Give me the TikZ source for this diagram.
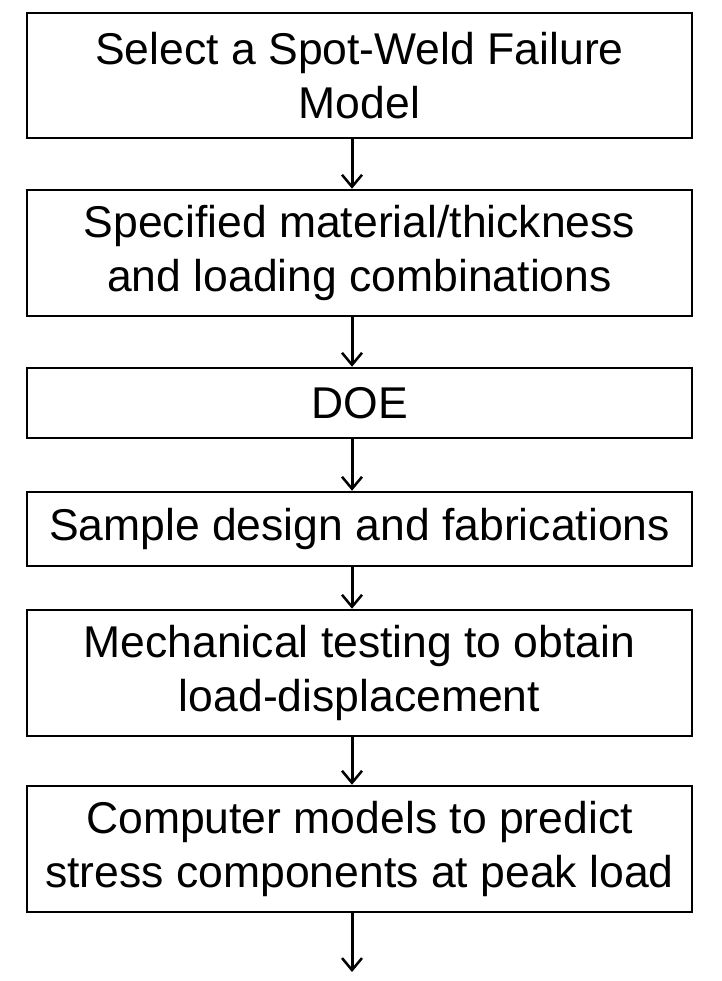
\documentclass[tikz,border=0pt]{standalone}
\usepackage{fontspec}
\setmainfont{Liberation Sans}
\usetikzlibrary{arrows.meta}
\begin{document}
\begin{tikzpicture}[x=1pt,y=1pt,
  box/.style={draw,line width=2.5pt,minimum width=665pt,align=center,inner sep=0pt,
    font=\fontsize{44.5}{54}\selectfont},
  conn/.style={line width=3pt,-{Straight Barb[length=12pt,width=20pt,line width=2.5pt]}}]
\useasboundingbox (0,0) rectangle (721,-981);
\node[box,minimum height=125pt] (b1) at (359.5,-75.5) {Select a Spot-Weld Failure\\Model};
\node[box,minimum height=126pt] (b2) at (359.5,-253) {Specified material/thickness\\and loading combinations};
\node[box,minimum height=70pt] (b3) at (359.5,-403) {DOE};
\node[box,minimum height=74pt] (b4) at (359.5,-529) {Sample design and fabrications};
\node[box,minimum height=126pt] (b5) at (359.5,-673) {Mechanical testing to obtain\\load-displacement};
\node[box,minimum height=126pt] (b6) at (359.5,-849) {Computer models to predict\\stress components at peak load};
\coordinate (end) at (352,-972);
\foreach \a/\b in {b1/b2,b2/b3,b3/b4,b4/b5,b5/b6}
  \draw[conn] (\a.south -| end) -- (\b.north -| end);
\draw[conn] (b6.south -| end) -- (end);
\end{tikzpicture}
\end{document}
